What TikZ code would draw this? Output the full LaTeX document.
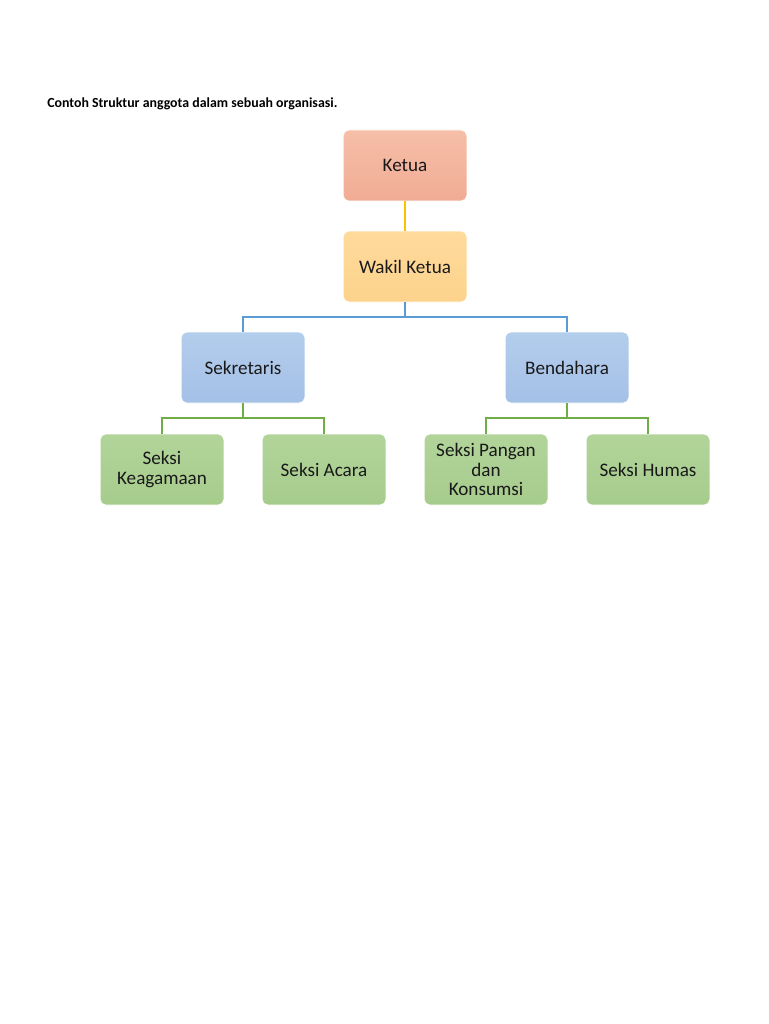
\documentclass[tikz,border=0pt]{standalone}
\usepackage{fontspec}
\setmainfont{Carlito}
\begin{document}
\begin{tikzpicture}[x=0.8pt, y=-0.8pt,
				    unit/.style={draw=white, line width=0.6pt, rounded corners=4.5pt,
				    			 minimum width=99pt, minimum height=56.8pt,
				    			 inner sep=1pt, align=center, text=black!90,
				    			 font=\fontsize{15.3}{15.5}\selectfont},
				    top1/.style={unit, top color=ketuatop, bottom color=ketuabot},
				    top2/.style={unit, top color=wakiltop, bottom color=wakilbot},
				    mid/.style={unit, top color=midtop, bottom color=midbot},
				    low/.style={unit, top color=lowtop, bottom color=lowbot}]
	\definecolor{ketuatop}{HTML}{F6BFA8}
	\definecolor{ketuabot}{HTML}{F1AB94}
	\definecolor{wakiltop}{HTML}{FEDA9C}
	\definecolor{wakilbot}{HTML}{FDD38C}
	\definecolor{midtop}{HTML}{B3CDEC}
	\definecolor{midbot}{HTML}{A4C0E6}
	\definecolor{lowtop}{HTML}{B2D49A}
	\definecolor{lowbot}{HTML}{A6CC8C}
	\useasboundingbox[fill=white] (0, 0) rectangle (768, 1024);
	\node[anchor=base west, inner sep=0pt, font=\fontsize{11.1}{13}\selectfont\bfseries] (title) at (47, 107.5)
		{Contoh Struktur anggota dalam sebuah organisasi.};
	\node[top1] (ketua) at (405, 165.5) {Ketua};
	\node[top2] (wakil) at (405, 266.5) {Wakil Ketua};
	\node[mid] (sek) at (243, 367.5) {Sekretaris};
	\node[mid] (bend) at (567, 367.5) {Bendahara};
	\node[low] (agama) at (162, 469.5) {Seksi\\Keagamaan};
	\node[low] (acara) at (324, 469.5) {Seksi Acara};
	\node[low] (pangan) at (486, 469.5) {Seksi Pangan\\dan\\Konsumsi};
	\node[low] (humas) at (648, 469.5) {Seksi Humas};
	\coordinate (j1) at (405, 317);
	\coordinate (j2) at (243, 418);
	\coordinate (j3) at (567, 418);
	\draw[color={rgb,255:red,255;green,192;blue,0}, line width=1pt] (ketua) -- (wakil);
	\draw[color={rgb,255:red,91;green,155;blue,213}, line width=1pt] (wakil) -- (j1) -| (sek);
	\draw[color={rgb,255:red,91;green,155;blue,213}, line width=1pt] (j1) -| (bend);
	\draw[color={rgb,255:red,112;green,173;blue,71}, line width=1pt] (sek) -- (j2) -| (agama);
	\draw[color={rgb,255:red,112;green,173;blue,71}, line width=1pt] (j2) -| (acara);
	\draw[color={rgb,255:red,112;green,173;blue,71}, line width=1pt] (bend) -- (j3) -| (pangan);
	\draw[color={rgb,255:red,112;green,173;blue,71}, line width=1pt] (j3) -| (humas);
\end{tikzpicture}
\end{document}
